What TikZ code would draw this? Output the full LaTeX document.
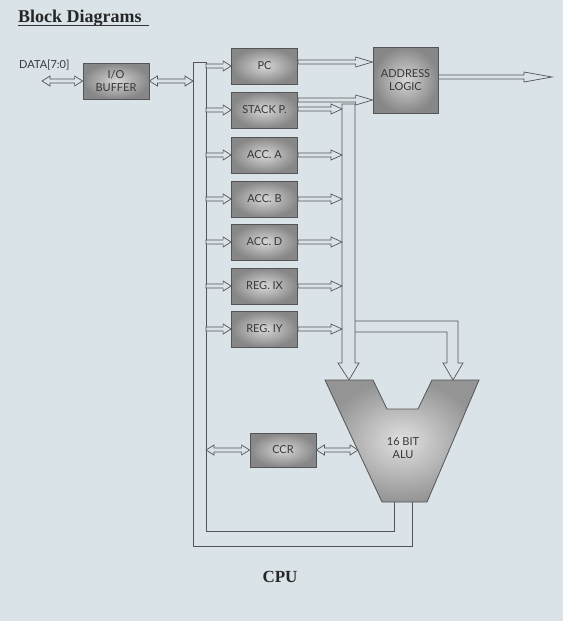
\documentclass[tikz,border=0pt]{standalone}
\usepackage{fontspec}
\setmainfont{Liberation Serif}
\newfontfamily\labfont{Lato}
\usetikzlibrary{calc}

\definecolor{bgcol}{RGB}{218,227,231}
\definecolor{linecol}{RGB}{85,85,88}
\definecolor{txtcol}{RGB}{55,55,60}

% hollow bus arrows, left to right
\newcommand{\harrow}[3][8pt]{%
	\draw[hollow] let \p1=#2, \p2=#3 in (\x1,\y1+2pt) -- (\x2-#1,\y1+2pt) -- (\x2-#1,\y1+5pt) -- (\x2,\y1)
		-- (\x2-#1,\y1-5pt) -- (\x2-#1,\y1-2pt) -- (\x1,\y1-2pt) -- cycle;}
\newcommand{\dharrow}[2]{%
	\draw[hollow] let \p1=#1, \p2=#2 in (\x1,\y1) -- (\x1+8pt,\y1+5pt) -- (\x1+8pt,\y1+2pt) -- (\x2-8pt,\y1+2pt)
		-- (\x2-8pt,\y1+5pt) -- (\x2,\y1) -- (\x2-8pt,\y1-5pt) -- (\x2-8pt,\y1-2pt) -- (\x1+8pt,\y1-2pt)
		-- (\x1+8pt,\y1-5pt) -- cycle;}

\tikzset{
	busline/.style={draw=linecol,line width=0.7pt},
	hollow/.style={draw=linecol,line width=0.7pt,fill=bgcol},
	labtext/.style={font=\labfont\fontsize{11}{13}\selectfont,text=txtcol,inner sep=0pt},
	regbox/.style={labtext,draw=linecol,line width=0.8pt,inner color=black!16,outer color=black!47,
		minimum width=66pt,minimum height=36pt,align=center},
}

\begin{document}
\begin{tikzpicture}[x=1pt,y=-1pt]
	\fill[bgcol] (0,0) rectangle (563,621);

	\node[anchor=base west,font=\bfseries\fontsize{18}{20}\selectfont,text=black!85,inner sep=0pt] (title) at (18,22.5) {Block Diagrams};
	\draw[black!80,line width=0.9pt] ($(title.base west)+(0,3)$) -- ($(title.base east)+(7,3)$);
	\node[anchor=base,font=\bfseries\fontsize{17}{19}\selectfont,text=black!85,inner sep=0pt] (cpu) at (280,582) {CPU};

	% buses
	\coordinate (busout) at (193,62);
	\coordinate (busin) at (206,62);
	\coordinate (alubus) at (342,104);
	\draw[busline] (412,502) -- (412,546) -- (193,546) -- (busout) -- (busin) -- (206,531) -- (394,531) -- (394,502);
	\draw[busline] (alubus) -- (342,363) -- (338,363) -- (349,380) -- (359,363) -- (355,363) -- (355,104) -- cycle;
	\draw[busline] (355,321) -- (458,321) -- (458,363) -- (463,363) -- (453,380) -- (443,363) -- (447,363) -- (447,332) -- (355,332);

	% ALU
	\coordinate (alu1) at (325,380);
	\coordinate (alu2) at (373,380);
	\coordinate (alu3) at (387,409);
	\coordinate (alu4) at (418,409);
	\coordinate (alu5) at (432,380);
	\coordinate (alu6) at (479,380);
	\coordinate (alu7) at (427,502);
	\coordinate (alu8) at (382,502);
	\draw[draw=linecol,line width=0.8pt,inner color=black!12,outer color=black!42]
		(alu1) -- (alu2) -- (alu3) -- (alu4) -- (alu5) -- (alu6) -- (alu7) -- (alu8) -- cycle;
	\node[labtext,align=center] (alu) at (403,448) {16 BIT\\ALU};

	% registers
	\foreach \name/\lab/\y in {pc/PC/66,sp/STACK P./110,acca/ACC. A/155,accb/ACC. B/199,accd/ACC. D/242,regix/REG. IX/286,regiy/REG. IY/329}
	{
		\node[regbox] (\name) at (264.5,\y) {\lab};
		\harrow{(busin |- \name.west)}{(\name.west)}
	}
	\foreach \name in {acca,accb,accd,regix,regiy}
	{
		\harrow[11pt]{(\name.east)}{(alubus)}
	}

	\node[regbox] (iobuf) at (116,81) {I/O\\BUFFER};
	\node[regbox,minimum height=66pt,minimum width=65pt] (addr) at (405.5,80) {ADDRESS\\LOGIC};
	\node[regbox,minimum height=34pt] (ccr) at (283,450) {CCR};
	\node[labtext,anchor=base west] (data) at (19,68) {DATA[7:0]};

	\coordinate (dataend) at (42,81);
	\coordinate (pcout) at ($(pc.east)+(0,-4)$);
	\coordinate (spout) at ($(sp.east)+(0,-10)$);
	\coordinate (addrout) at (552,77);

	\dharrow{(dataend)}{(iobuf.west)}
	\dharrow{(iobuf.east)}{(busout)}
	\harrow[17pt]{(pcout)}{(addr.west)}
	\harrow[17pt]{(spout)}{(addr.west)}
	\harrow[11pt]{($(sp.east)+(0,-1)$)}{(alubus)}
	\harrow[28pt]{($(addr.east)+(0,-3)$)}{(addrout)}
	\dharrow{(busin |- ccr.west)}{(ccr.west)}
	\dharrow{(ccr.east)}{($(alu1)!0.58!(alu8)$)}
\end{tikzpicture}
\end{document}
